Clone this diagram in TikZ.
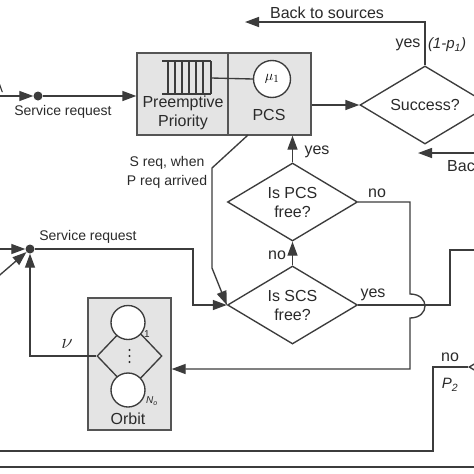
\documentclass[tikz,border=0pt]{standalone}
\usepackage{fontspec}
\setmainfont{Liberation Sans}
\usetikzlibrary{shapes.geometric,arrows.meta}
\definecolor{linec}{HTML}{3C3C3C}
\definecolor{boxc}{HTML}{555555}
\definecolor{boxfill}{HTML}{E4E4E4}
\definecolor{txtc}{HTML}{2A2A2A}
\begin{document}
\begin{tikzpicture}[x=1pt,y=-1pt,
  ln/.style={draw=linec, line width=1.35pt},
  arr/.style={ln, -{Triangle[length=14pt,width=10pt]}},
  dec/.style={diamond, draw=linec, line width=1.35pt, aspect=1.67, minimum width=130pt, minimum height=78pt, inner sep=0pt, align=center, font=\fontsize{16}{19}\selectfont, text=txtc},
  gbox/.style={rectangle, draw=boxc, line width=1.35pt, fill=boxfill, inner sep=0pt},
  lbl/.style={font=\fontsize{16}{19}\selectfont, text=txtc, inner sep=0pt, align=center},
  slbl/.style={font=\fontsize{14}{19}\selectfont, text=txtc, inner sep=0pt, align=center},
  dotn/.style={circle, fill=linec, minimum size=9pt, inner sep=0pt},
  srv/.style={circle, draw=linec, line width=1.35pt, fill=white, minimum size=34pt, inner sep=0pt}
]
\fill[white] (0,0) rectangle (474,474);
\useasboundingbox (0,0) rectangle (474,474);

% main box
\node[gbox, minimum width=91pt, minimum height=82pt] (pp) at (182.5,94) {};
\node[gbox, minimum width=83pt, minimum height=82pt] (pcs) at (269.5,94) {};
% queue
\draw[ln] (162,61) -- (211,61) (162,94) -- (211,94);
\foreach \qx in {168,175,182,189,196,203,211} \draw[ln] (\qx,61) -- (\qx,94);
\coordinate (qend) at (211,78);
\node[srv, minimum size=37pt] (mu) at (272,79) {\fontsize{15}{18}\selectfont$\mu_1$};
\draw[ln] (qend) -- (mu.west);
\node[lbl] (pptxt) at (183,113) {Preemptive\\Priority};
\node[lbl] (pcstxt) at (269,115) {PCS};

% first arrival
\node[dotn] (dot1) at (38,96) {};
\coordinate (in1) at (-5,96);
\draw[arr] (in1) -- (dot1);
\draw[arr] (dot1) -- (dot1 -| pp.west);
\node[slbl] (sr1) at (63,112) {Service request};
\node[lbl, anchor=east] (lam) at (4,86) {$\lambda$};

% success
\node[dec] (succ) at (425,105) {Success?};
\draw[arr] (pcs.east |- succ.west) -- (succ.west);
\coordinate (back1) at (245,22);
\draw[arr] (succ.north) |- (back1);
\node[lbl] (backtxt) at (327,13) {Back to sources};
\node[lbl] (yes1) at (408,45) {yes};
\node[lbl, font=\fontsize{15}{18}\selectfont\itshape] (p1) at (447,45) {(1-p\textsubscript{1})};
\coordinate (back2r) at (480,153);
\coordinate (back2l) at (418,153);
\draw[arr] (back2r) -- (back2l);
\node[lbl, anchor=west] (backtxt2) at (447,166) {Back to sources};

% decisions
\node[dec] (pcsfree) at (292.5,202) {Is PCS\\free?};
\node[dec] (scs) at (292.5,305) {Is SCS\\free?};
\draw[arr] (pcsfree.north) -- (pcsfree.north |- pcs.south);
\node[lbl] (yes2) at (317,152) {yes};
\draw[arr] (scs.north) -- (pcsfree.south);
\node[lbl] (no1) at (277,255) {no};

% S req path
\coordinate (s0) at (248,135);
\coordinate (s1) at (212,168);
\coordinate (s2) at (212,268);
\draw[arr] (s0) -- (s1) -- (s2) -- (scs.west);
\node[slbl] (sreq) at (167,172) {S req, when\\P req arrived};

% PCS no path with jump
\coordinate (j1) at (410,294);
\coordinate (j2) at (410,318);
\coordinate (nobot) at (410,369);
\node[lbl] (no2) at (377,193) {no};

% orbit
\node[gbox, minimum width=83pt, minimum height=132pt] (orbit) at (129.5,364) {};
\node[diamond, draw=linec, line width=1.35pt, minimum width=65pt, minimum height=68pt, inner sep=0pt] (odia) at (129.5,356) {};
\foreach \dy in {-6,0,6} \fill[txtc] ([yshift=\dy]odia.center) circle (1.1pt);
\node[srv] (c1) at (128,322.5) {};
\node[srv] (c2) at (128,390) {};
\node[lbl, font=\fontsize{10}{12}\selectfont] (one) at (147,334) {1};
\node[lbl, font=\fontsize{10}{12}\selectfont\itshape] (n0) at (152,401) {N\textsubscript{o}};
\node[lbl] (orbtxt) at (128,419) {Orbit};

\draw[arr] (pcsfree.east) -| (j1) .. controls (430,294) and (430,318) .. (j2) -- (nobot) -- (orbit.east |- nobot);

% SCS yes
\coordinate (y2) at (450,250);
\coordinate (y3) at (480,250);
\draw[ln] (scs.east) -| (y2) -- (y3);
\node[lbl] (yes3) at (373,295) {yes};

% second arrival
\node[dotn] (dot2) at (30,249) {};
\coordinate (in2) at (-5,249);
\coordinate (in3) at (-6,280);
\draw[arr] (in2) -- (dot2);
\draw[arr] (in3) -- (dot2);
\coordinate (sr2c) at (193,305);
\draw[arr] (dot2) -| (sr2c) -- (scs.west);
\node[slbl] (sr2) at (88,237) {Service request};
\draw[arr] (odia.west) -| (dot2);
\node[lbl, font=\fontsize{20}{22}\selectfont] (nu) at (67,344) {$\nu$};

% P2 branch
\node[dec] (p2dec) at (534,367) {};
\coordinate (p2a) at (433,367);
\coordinate (p2b) at (433,451);
\coordinate (p2c) at (-5,451);
\draw[ln] (p2dec.west) -- (p2a) -- (p2b) -- (p2c);
\node[lbl] (no3) at (450,357) {no};
\node[lbl, font=\fontsize{15}{18}\selectfont\itshape] (p2) at (450,385) {P\textsubscript{2}};
\coordinate (bl) at (-5,467);
\coordinate (br) at (480,467);
\draw[ln] (bl) -- (br);
\end{tikzpicture}
\end{document}
